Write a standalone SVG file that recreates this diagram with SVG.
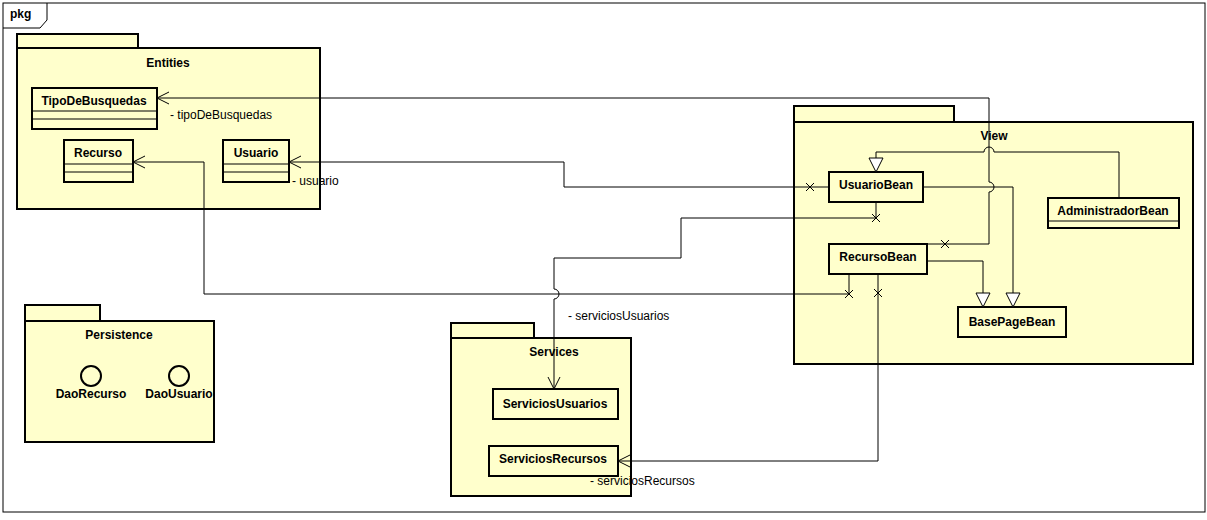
<svg xmlns="http://www.w3.org/2000/svg" width="1207" height="520" viewBox="0 0 1207 520">
<style>
.pk{fill:#ffffcc;stroke:#000;stroke-width:2}
.bx{fill:#ffffcc;stroke:#000;stroke-width:2}
.ln{fill:none;stroke:#000;stroke-width:1}
text{font-family:"Liberation Sans",Arial,sans-serif;font-size:12px;fill:#000}
.b{font-weight:bold;text-anchor:middle}
.m{text-anchor:middle}
</style>
<defs>
<marker id="open" markerWidth="14" markerHeight="14" refX="13" refY="7" orient="auto" markerUnits="userSpaceOnUse"><path d="M1,1 L13,7 L1,13" fill="none" stroke="#000"/></marker>
<marker id="tri" markerWidth="16" markerHeight="16" refX="15" refY="8" orient="auto" markerUnits="userSpaceOnUse"><path d="M1,1 L15,8 L1,15 Z" fill="#fff" stroke="#000"/></marker>
</defs>
<rect width="1207" height="520" fill="#fff"/>
<g id="frame">
<rect x="3" y="3" width="1202" height="509" fill="none" stroke="#000"/>
<path d="M3,28 L40,28 L47,20 L47,3" fill="none" stroke="#000"/>
<text x="10" y="18" font-weight="bold">pkg</text>
</g>
<g id="Entities">
<rect class="pk" x="17" y="34" width="121" height="14"/>
<rect class="pk" x="17" y="48" width="303" height="161"/>
<text class="b" x="168" y="67">Entities</text>
</g>
<g id="TipoDeBusquedas">
<rect class="bx" x="32" y="88" width="125" height="41"/>
<path class="ln" d="M32,111H157M32,119H157"/>
<text class="b" x="94" y="105">TipoDeBusquedas</text>
</g>
<g id="Recurso">
<rect class="bx" x="64" y="140" width="69" height="42"/>
<path class="ln" d="M64,164H133M64,172H133"/>
<text class="b" x="98" y="157">Recurso</text>
</g>
<g id="Usuario">
<rect class="bx" x="223" y="140" width="66" height="42"/>
<path class="ln" d="M223,164H289M223,172H289"/>
<text class="b" x="256" y="157">Usuario</text>
</g>
<g id="Persistence">
<rect class="pk" x="25" y="305" width="75" height="16"/>
<rect class="pk" x="25" y="321" width="189" height="121"/>
<text class="b" x="119" y="339">Persistence</text>
<circle cx="91" cy="376" r="10" fill="none" stroke="#000" stroke-width="2"/>
<circle cx="179" cy="376" r="10" fill="none" stroke="#000" stroke-width="2"/>
<text class="b" x="91" y="398">DaoRecurso</text>
<text class="b" x="179" y="398">DaoUsuario</text>
</g>
<g id="Services">
<rect class="pk" x="451" y="323" width="83" height="15"/>
<rect class="pk" x="451" y="338" width="180" height="158"/>
<text class="b" x="554" y="356">Services</text>
</g>
<g id="ServiciosUsuarios">
<rect class="bx" x="493" y="389" width="125" height="30"/>
<text class="b" x="555" y="408">ServiciosUsuarios</text>
</g>
<g id="ServiciosRecursos">
<rect class="bx" x="489" y="446" width="129" height="30"/>
<text class="b" x="553" y="463">ServiciosRecursos</text>
</g>
<g id="View">
<rect class="pk" x="794" y="106" width="160" height="16"/>
<rect class="pk" x="794" y="122" width="399" height="242"/>
<text class="b" x="994" y="140">View</text>
</g>
<g id="UsuarioBean">
<rect class="bx" x="829" y="172" width="94" height="30"/>
<text class="b" x="876" y="189">UsuarioBean</text>
</g>
<g id="AdministradorBean">
<rect class="bx" x="1048" y="198" width="131" height="30"/>
<path class="ln" d="M1048,221H1179"/>
<text class="b" x="1113" y="215">AdministradorBean</text>
</g>
<g id="RecursoBean">
<rect class="bx" x="829" y="244" width="98" height="30"/>
<text class="b" x="878" y="261">RecursoBean</text>
</g>
<g id="BasePageBean">
<rect class="bx" x="958" y="307" width="108" height="30"/>
<text class="b" x="1012" y="326">BasePageBean</text>
</g>
<g id="connectors">
<path class="ln" d="M927,244H989V192A5,5 0 0 0 989,182V98H157" marker-end="url(#open)"/>
<path class="ln" d="M829,187H564V162H289" marker-end="url(#open)"/>
<path class="ln" d="M876,202V218H681V258H554V289A5,5 0 0 1 554,299V389" marker-end="url(#open)"/>
<path class="ln" d="M849,274V294H204V162H133" marker-end="url(#open)"/>
<path class="ln" d="M878,274V461H618" marker-end="url(#open)"/>
<path class="ln" d="M923,187H1013V307" marker-end="url(#tri)"/>
<path class="ln" d="M927,261H983V307" marker-end="url(#tri)"/>
<path class="ln" d="M1119,198V152H994A5,5 0 0 0 984,152H876V172" marker-end="url(#tri)"/>
<path class="ln" d="M941,240l8,8M949,240l-8,8M806,183l8,8M814,183l-8,8M872,214l8,8M880,214l-8,8M845,290l8,8M853,290l-8,8M874,289l8,8M882,289l-8,8"/>
<text x="170" y="119">- tipoDeBusquedas</text>
<text x="292" y="185">- usuario</text>
<text x="568" y="320">- serviciosUsuarios</text>
<text x="590" y="485">- serviciosRecursos</text>
</g>
</svg>
